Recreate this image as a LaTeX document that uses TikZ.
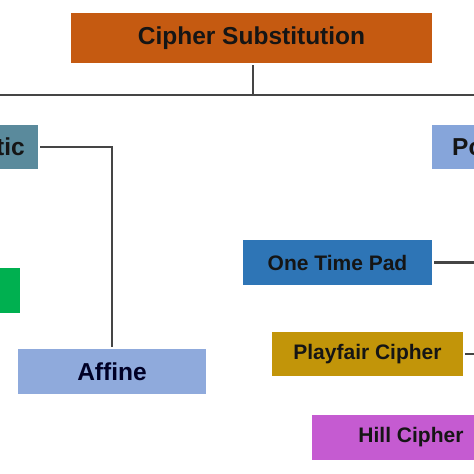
\documentclass[tikz,border=0pt]{standalone}
\usepackage{fontspec}
\setmainfont{Liberation Sans}
\definecolor{cRoot}{HTML}{C55A11}
\definecolor{cMono}{HTML}{5A8A9C}
\definecolor{cGreen}{HTML}{00B050}
\definecolor{cAff}{HTML}{8FAADC}
\definecolor{cPoly}{HTML}{86A5DA}
\definecolor{cOtp}{HTML}{2E75B6}
\definecolor{cPlay}{HTML}{C29509}
\definecolor{cHill}{HTML}{C55BD1}
\definecolor{cLine}{HTML}{454545}
\definecolor{cText}{HTML}{151515}
\begin{document}
\begin{tikzpicture}[x=1pt,y=-1pt,
  box/.style={rectangle, draw=none, inner sep=0pt, text=cText,
    font=\bfseries\fontsize{21}{24}\selectfont},
  conn/.style={draw=cLine, line width=2.2pt}]
\useasboundingbox (0,0) rectangle (474,474);
\clip (0,0) rectangle (474,474);
\fill[white] (0,0) rectangle (474,474);
% nodes
\node[box, fill=cRoot, minimum width=361pt, minimum height=50pt,
  font=\bfseries\fontsize{24.5}{28}\selectfont] (root) at (251.5,38) {Cipher Substitution};
\node[box, fill=cMono, minimum height=44pt, text width=140pt, align=right,
  inner xsep=13pt, font=\bfseries\fontsize{24.5}{28}\selectfont, anchor=east] (mono) at (38,147) {tic};
\node[box, fill=cPoly, minimum height=44pt, text width=140pt, align=left,
  inner xsep=20pt, font=\bfseries\fontsize{24.5}{28}\selectfont, anchor=west] (poly) at (432,147) {Po};
\node[box, fill=cGreen, minimum width=40pt, minimum height=45pt] (green) at (0,290.5) {};
\node[box, fill=cAff, minimum width=188pt, minimum height=45pt,
  text=black!85!blue, font=\bfseries\fontsize{24.5}{28}\selectfont] (affine) at (112,371.5) {Affine};
\node[box, fill=cOtp, minimum width=189pt, minimum height=45pt] (otp) at (337.5,262.5) {One Time Pad};
\node[box, fill=cPlay, minimum width=191pt, minimum height=44pt] (play) at (367.5,354) {Playfair Cipher};
\node[box, fill=cHill, minimum width=198pt, minimum height=45pt] (hill) at (411,437.5) {Hill Cipher};
% coordinates
\coordinate (jn) at (253,95);
\coordinate (hl) at (0,95);
\coordinate (hr) at (474,95);
\coordinate (rx) at (474,0);
% connectors
\draw[conn] ([yshift=-2pt]jn |- root.south) -- (jn);
\draw[conn] (hl) -- (hr);
\draw[conn] ([xshift=2pt]mono.east) -| ([yshift=2pt]affine.north);
\draw[conn] ([xshift=2pt]otp.east) -- (otp.east -| rx);
\draw[conn] ([xshift=2pt]play.east) -- (play.east -| rx);
\end{tikzpicture}
\end{document}
